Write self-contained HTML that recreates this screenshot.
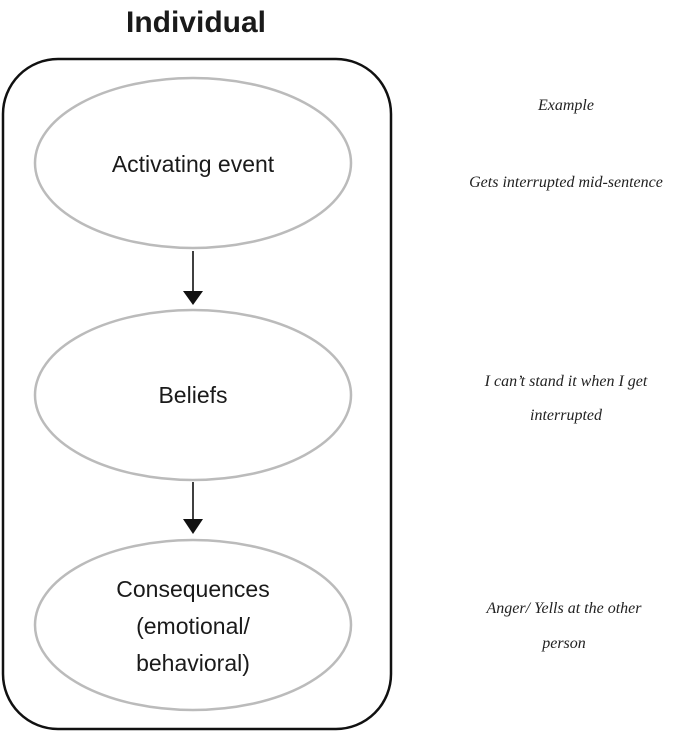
<!DOCTYPE html>
<html><head><style>
body{margin:0;background:#fff;width:685px;height:731px;overflow:hidden}
</style></head><body>
<svg width="685" height="731" xmlns="http://www.w3.org/2000/svg">
<text x="196" y="32" text-anchor="middle" font-family="Liberation Sans, sans-serif" font-weight="bold" font-size="30" fill="#1a1a1a">Individual</text>
<rect x="3" y="59" width="388" height="670" rx="55" ry="55" fill="none" stroke="#111" stroke-width="2.5"/>
<g fill="none" stroke="#bbb" stroke-width="2.5">
<ellipse cx="193" cy="163" rx="158" ry="85"/>
<ellipse cx="193" cy="395" rx="158" ry="85"/>
<ellipse cx="193" cy="625" rx="158" ry="85"/>
</g>
<g stroke="#111" stroke-width="1.6">
<line x1="193" y1="251" x2="193" y2="292"/>
<line x1="193" y1="482" x2="193" y2="520"/>
</g>
<polygon points="183,291 203,291 193,305" fill="#111"/>
<polygon points="183,519 203,519 193,534" fill="#111"/>
<g font-family="Liberation Sans, sans-serif" font-size="23" fill="#1a1a1a" text-anchor="middle">
<text x="193" y="172">Activating event</text>
<text x="193" y="403">Beliefs</text>
<text x="193" y="597">Consequences</text>
<text x="193" y="634">(emotional/</text>
<text x="193" y="671">behavioral)</text>
</g>
<g font-family="Liberation Serif, serif" font-style="italic" font-size="16" fill="#222" text-anchor="middle">
<text x="566" y="110">Example</text>
<text x="566" y="187">Gets interrupted mid-sentence</text>
<text x="566" y="386">I can’t stand it when I get</text>
<text x="566" y="420">interrupted</text>
<text x="564" y="613">Anger/ Yells at the other</text>
<text x="564" y="648">person</text>
</g>
</svg>
</body></html>
